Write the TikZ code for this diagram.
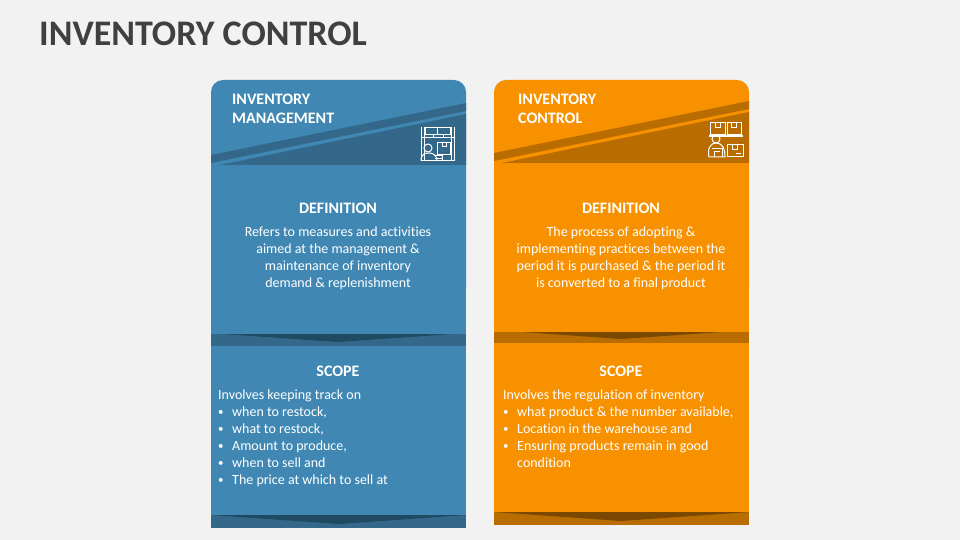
\documentclass[tikz,border=0pt]{standalone}
\usepackage{fontspec}
\setmainfont[Ligatures=NoCommon]{Carlito}
\definecolor{pagegray}{HTML}{F2F2F2}
\definecolor{titlegray}{HTML}{404040}
\definecolor{cardblue}{HTML}{4088B3}
\definecolor{bandblue}{HTML}{33688A}
\definecolor{tipblue}{HTML}{1F4A62}
\definecolor{cardorange}{HTML}{F79100}
\definecolor{bandorange}{HTML}{B96D00}
\definecolor{tiporange}{HTML}{7A4800}
\tikzset{
    heading/.style={text=white, font=\fontsize{16}{19}\selectfont\bfseries, align=left, anchor=west, inner sep=0pt},
    subheading/.style={text=white, font=\fontsize{16}{19}\selectfont\bfseries},
    body/.style={text=white, font=\fontsize{14}{17}\selectfont, align=center},
    line/.style={text=white, font=\fontsize{14}{17}\selectfont, anchor=base west, inner sep=0pt},
    dot/.style={text=white, font=\fontsize{11}{17}\selectfont, anchor=base west, inner sep=0pt},
    icon/.style={draw=white, line width=1pt}
}
\begin{document}
\begin{tikzpicture}[x=1pt, y=-1pt]
    \fill[pagegray] (0,0) rectangle (960,540);
    \node[anchor=west, inner sep=0pt, text=titlegray, font=\fontsize{36}{44}\selectfont\bfseries] (title) at (39,34) {INVENTORY CONTROL};

    % left card
    \fill[cardblue, rounded corners=12pt] (211,300) -- (211,80) -- (466,80) -- (466,300) -- cycle;
    \fill[cardblue] (211,200) rectangle (466,528);
    \fill[bandblue] (211,155) -- (466,103) -- (466,111) -- (211,163) -- cycle;
    \fill[bandblue] (220,165) -- (466,114) -- (466,165) -- cycle;
    \fill[bandblue] (211,334) rectangle (466,346);
    \fill[tipblue] (223,334) -- (338,342) -- (453,334) -- cycle;
    \fill[bandblue] (211,515) rectangle (466,528);
    \fill[tipblue] (211,515) -- (339,524) -- (466,515) -- cycle;

    % right card
    \fill[cardorange, rounded corners=12pt] (494,300) -- (494,80) -- (749,80) -- (749,300) -- cycle;
    \fill[cardorange] (494,200) rectangle (749,525);
    \fill[bandorange] (494,153) -- (749,101) -- (749,109) -- (494,161) -- cycle;
    \fill[bandorange] (502,163) -- (749,112) -- (749,163) -- cycle;
    \fill[bandorange] (494,332) rectangle (749,343);
    \fill[tiporange] (522,332) -- (621,339) -- (722,332) -- cycle;
    \fill[bandorange] (494,512) rectangle (749,525);
    \fill[tiporange] (494,512) -- (621,521) -- (749,512) -- cycle;

    % left text
    \node[heading] (mgmt) at (232,109) {INVENTORY\\MANAGEMENT};
    \node[subheading] (defl) at (338,208) {DEFINITION};
    \node[body] (deftextl) at (338,258) {Refers to measures and activities\\aimed at the management \&\\maintenance of inventory\\demand \& replenishment};
    \node[subheading] (scopel) at (338,371) {SCOPE};
    \node[line] (l0) at (218,399) {Involves keeping track on};
    \node[dot] (b1) at (218,415) {•};
    \node[line] (l1) at (232,416) {when to restock,};
    \node[dot] (b2) at (218,432) {•};
    \node[line] (l2) at (232,433) {what to restock,};
    \node[dot] (b3) at (218,449) {•};
    \node[line] (l3) at (232,450) {Amount to produce,};
    \node[dot] (b4) at (218,466) {•};
    \node[line] (l4) at (232,467) {when to sell and};
    \node[dot] (b5) at (218,483) {•};
    \node[line] (l5) at (232,484) {The price at which to sell at};

    % right text
    \node[heading] (ctrl) at (518,109) {INVENTORY\\CONTROL};
    \node[subheading] (defr) at (621,208) {DEFINITION};
    \node[body] (deftextr) at (621,258) {The process of adopting \&\\implementing practices between the\\period it is purchased \& the period it\\is converted to a final product};
    \node[subheading] (scoper) at (621,371) {SCOPE};
    \node[line] (r0) at (503,399) {Involves the regulation of inventory};
    \node[dot] (c1) at (503,415) {•};
    \node[line] (r1) at (517,416) {what product \& the number available,};
    \node[dot] (c2) at (503,432) {•};
    \node[line] (r2) at (517,433) {Location in the warehouse and};
    \node[dot] (c3) at (503,449) {•};
    \node[line] (r3) at (517,450) {Ensuring products remain in good};
    \node[line] (r4) at (517,467) {condition};

    % left icon
    \draw[icon] (421,161) -- (421,127) (454,127) -- (454,161) (424,127) -- (424,161) (451,127) -- (451,161);
    \draw[icon] (421,161) -- (454,161) (421,138) -- (454,138);
    \draw[icon] (425,128) rectangle (437,135) (437,128) rectangle (450,135) (433,135) rectangle (443,138);
    \draw[icon] (429,128) -- (434,128) (441,128) -- (446,128);
    \draw[icon] (437,143) rectangle (450,155) (442,143) -- (442,147) -- (446,147) -- (446,143);
    \draw[icon] (442,155) rectangle (451,161);
    \draw[icon] (428,148) circle[radius=4];
    \draw[icon] (421,161) .. controls (421,154) and (425,153) .. (429,153) .. controls (434,153) and (437,156) .. (437,161);
    \draw[icon] (434,156) -- (442,156) (435,158.5) -- (442,158.5);

    % right icon
    \draw[icon, line width=2pt] (709,136) -- (743,136);
    \draw[icon] (710,123) rectangle (725,135) (727,123) rectangle (741,135);
    \draw[icon] (715,123) -- (715,128) -- (720,128) -- (720,123) (731,123) -- (731,128) -- (736,128) -- (736,123);
    \draw[icon] (716,139) circle[radius=4];
    \draw[icon] (709,157) .. controls (707,148) and (711,143) .. (716,143) .. controls (722,143) and (725,148) .. (725,157) -- cycle;
    \draw[icon] (712,149) -- (722,149) -- (722,157) (714,157) -- (714,152) -- (720,152);
    \draw[icon] (727,145) rectangle (743,157) (732,145) -- (732,150) -- (737,150) -- (737,145) (736,154) -- (741,154);
\end{tikzpicture}
\end{document}
